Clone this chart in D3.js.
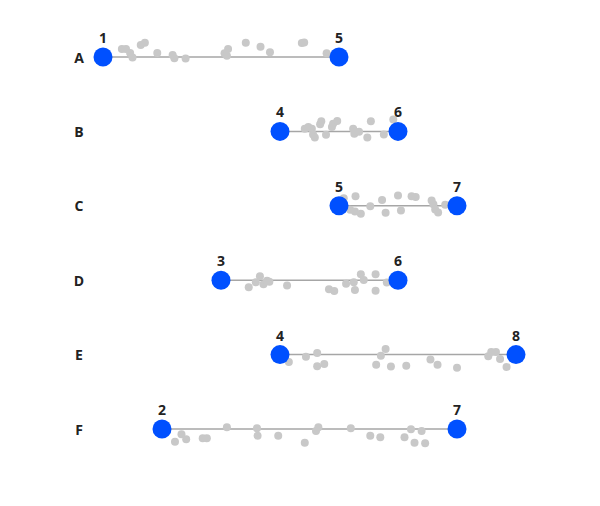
<!DOCTYPE html>
<html>
<head>
<meta charset="utf-8">
<script src="https://cdn.jsdelivr.net/npm/d3@7"></script>
<style>
  body { margin: 0; background: #fff; }
  text { font-family: "Open Sans", sans-serif; font-weight: 700; font-size: 14px; fill: #222; }
</style>
</head>
<body>
<div class="chart"></div>
<script>
const categories = ["A", "B", "C", "D", "E", "F"];
const minValues = [1, 4, 5, 3, 4, 2];
const maxValues = [5, 6, 7, 6, 8, 7];

// raw observations per category: value and vertical jitter (-1..1)
const valuesA = [1.32, 1.39, 1.46, 1.50, 1.64, 1.71, 1.92, 2.18, 2.21, 2.40, 3.06, 3.12, 3.10, 3.42, 3.67, 3.83, 4.37, 4.41, 4.79];
const jitterA = [-0.53, -0.53, -0.27, 0.03, -0.8, -0.95, -0.27, -0.13, 0.09, 0.1, -0.25, -0.53, -0.09, -0.95, -0.69, -0.31, -0.93, -0.97, -0.25];
const valuesB = [4.42, 4.48, 4.54, 4.56, 4.59, 4.68, 4.70, 4.78, 4.88, 4.90, 4.97, 5.24, 5.26, 5.34, 5.48, 5.54, 5.76, 5.92];
const jitterB = [-0.18, -0.29, -0.18, 0.2, 0.4, -0.47, -0.67, 0.22, -0.3, -0.51, -0.69, -0.18, 0.15, 0.03, 0.4, -0.67, 0.2, -0.8];
const valuesC = [5.08, 5.19, 5.27, 5.28, 5.37, 5.53, 5.73, 5.79, 6.00, 6.05, 6.23, 6.30, 6.57, 6.60, 6.63, 6.68, 6.80];
const jitterC = [-0.5, 0.27, 0.38, -0.63, 0.53, 0.03, -0.38, 0.47, -0.69, 0.31, -0.63, -0.58, -0.35, -0.1, 0.25, 0.45, -0.07];
const valuesD = [3.47, 3.59, 3.66, 3.72, 3.78, 3.82, 4.12, 4.83, 4.92, 5.12, 5.25, 5.27, 5.37, 5.42, 5.62, 5.62, 5.81];
const jitterD = [0.47, 0.13, -0.27, 0.27, 0.03, 0.1, 0.35, 0.6, 0.72, 0.23, 0.13, 0.65, -0.4, -0.02, -0.39, 0.7, 0.15];
const valuesE = [4.15, 4.44, 4.63, 4.63, 4.75, 5.63, 5.71, 5.79, 5.88, 6.14, 6.55, 6.67, 7.00, 7.53, 7.58, 7.66, 7.73, 7.84];
const jitterE = [0.49, 0.15, -0.11, 0.78, 0.62, 0.67, 0.07, -0.38, 0.8, 0.75, 0.33, 0.67, 0.87, 0.11, -0.18, -0.18, 0.29, 0.82];
const valuesF = [2.22, 2.33, 2.41, 2.69, 2.76, 3.10, 3.61, 3.62, 3.97, 4.42, 4.61, 4.65, 5.20, 5.53, 5.70, 6.11, 6.22, 6.28, 6.40, 6.46];
const jitterF = [0.85, 0.35, 0.69, 0.62, 0.62, -0.11, -0.05, 0.45, 0.45, 0.91, 0.13, -0.11, -0.05, 0.45, 0.55, 0.55, 0.02, 0.91, 0.13, 0.95];

const allValues = [valuesA, valuesB, valuesC, valuesD, valuesE, valuesF];
const allJitter = [jitterA, jitterB, jitterC, jitterD, jitterE, jitterF];

const width = 600;
const height = 506;

const svg = d3.select(".chart").append("svg").attr("width", width).attr("height", height);

const x = d3.scaleLinear().domain([0, 8]).range([44, 516]);
const y = d3.scalePoint().domain(categories).range([57, 429]);
const jit = d3.scaleLinear().domain([-1, 1]).range([-15, 15]);

const rows = categories.map((c, i) => ({
    cat: c,
    min: minValues[i],
    max: maxValues[i],
    points: allValues[i].map((v, j) => ({ v: v, j: allJitter[i][j] }))
}));

const row = svg.selectAll("g.row")
    .data(rows)
    .join("g")
    .attr("class", "row")
    .attr("transform", d => "translate(0," + y(d.cat) + ")");

row.append("text")
    .attr("x", 79)
    .attr("y", 5.5)
    .attr("text-anchor", "middle")
    .text(d => d.cat);

row.append("line")
    .attr("x1", d => x(d.min))
    .attr("x2", d => x(d.max))
    .attr("stroke", "#a6a6a6")
    .attr("stroke-width", 1.5);

row.selectAll("circle.pt")
    .data(d => d.points)
    .join("circle")
    .attr("class", "pt")
    .attr("cx", d => x(d.v))
    .attr("cy", d => jit(d.j))
    .attr("r", 4)
    .attr("fill", "#c8c8c8");

row.selectAll("circle.end")
    .data(d => [d.min, d.max])
    .join("circle")
    .attr("class", "end")
    .attr("cx", d => x(d))
    .attr("r", 9.5)
    .attr("fill", "#0050ff");

row.selectAll("text.num")
    .data(d => [d.min, d.max])
    .join("text")
    .attr("class", "num")
    .attr("x", d => x(d))
    .attr("y", -14)
    .attr("text-anchor", "middle")
    .text(d => d);
</script>
</body>
</html>
